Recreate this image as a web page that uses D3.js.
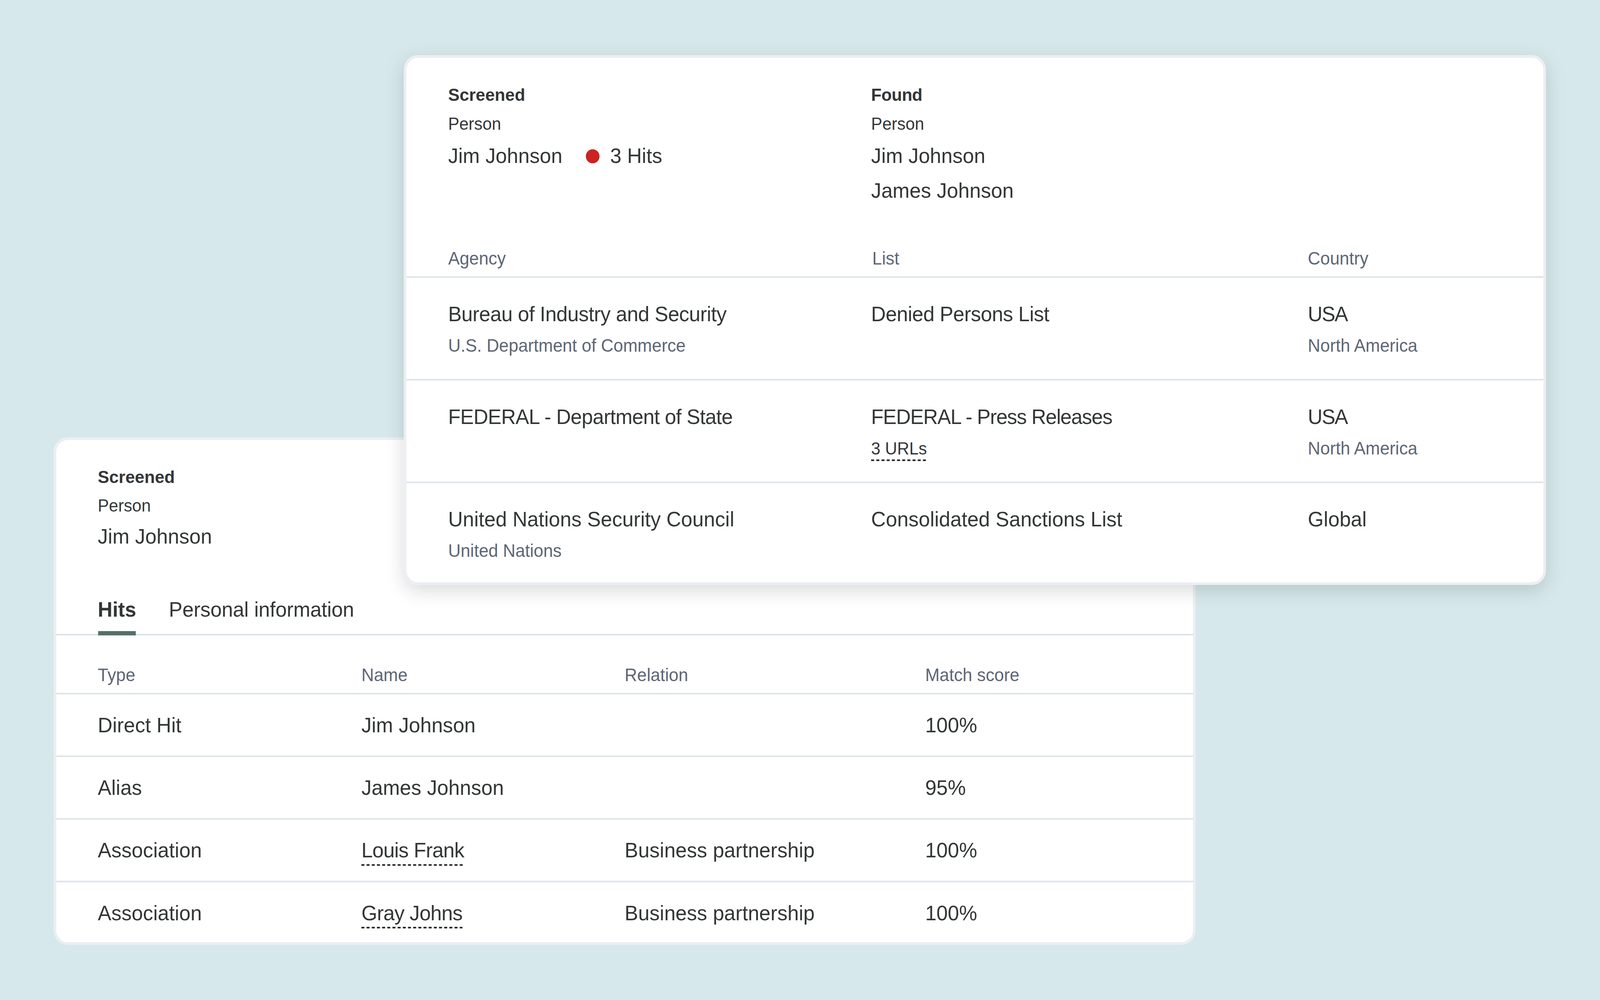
<!DOCTYPE html>
<html>
<head>
<meta charset="utf-8">
<script src="https://cdn.jsdelivr.net/npm/d3@7"></script>
<style>
  html, body { margin: 0; background: #d6e8eb; overflow: hidden; }
  svg { display: block; }
  text { font-family: "Liberation Sans", sans-serif; fill: #333637; }
  .big { font-size: 53.5px; }
  .small { font-size: 44px; }
  .bold { font-size: 45px; font-weight: 700; }
  .head, .sub { font-size: 45.5px; fill: #5d6675; }
  .card { fill: #fff; stroke: #ebeff4; stroke-width: 7; }
  .rule { stroke: #dde4ec; stroke-width: 4; }
  .dots { stroke: #222; stroke-width: 4; stroke-dasharray: 8 5.6; }
</style>
</head>
<body>
<svg id="canvas" viewBox="0 0 4206 2559" preserveAspectRatio="none"></svg>
<script>
const agencyColumns = ['Agency', 'List', 'Country']
const agencyNames = ['Bureau of Industry and Security', 'FEDERAL - Department of State', 'United Nations Security Council']
const agencySubs = ['U.S. Department of Commerce', '', 'United Nations']
const listNames = ['Denied Persons List', 'FEDERAL - Press Releases', 'Consolidated Sanctions List']
const listSubs = ['', '3 URLs', '']
const countryNames = ['USA', 'USA', 'Global']
const countrySubs = ['North America', 'North America', '']

const hitColumns = ['Type', 'Name', 'Relation', 'Match score']
const hitTypes = ['Direct Hit', 'Alias', 'Association', 'Association']
const hitNames = ['Jim Johnson', 'James Johnson', 'Louis Frank', 'Gray Johns']
const hitRelations = ['', '', 'Business partnership', 'Business partnership']
const hitScores = ['100%', '95%', '100%', '100%']
const linkedNames = ['Louis Frank', 'Gray Johns']

const foundNames = ['Jim Johnson', 'James Johnson']
const tabs = ['Hits', 'Personal information']

// Liberation runs wider than the original face on these strings
const tighten = new Map([
    ['FEDERAL - Press Releases', -1.4],
    ['FEDERAL - Department of State', -0.8],
    ['Bureau of Industry and Security', -0.57],
    ['Denied Persons List', -0.56],
    ['Louis Frank', -0.85],
    ['Gray Johns', -0.8],
    ['USA', -2],
    ['Personal information', -0.2],
    ['Found', -0.6]
])

// The window can be narrower than asked for, so fill it and let viewBox map the reference coordinates
const svg = d3.select('#canvas')
    .attr('width', window.innerWidth)
    .attr('height', window.innerHeight)

const defs = svg.append('defs')
defs.append('filter').attr('id', 'lift')
    .attr('x', '-10%').attr('y', '-20%').attr('width', '120%').attr('height', '140%')
    .append('feDropShadow')
    .attr('dx', 0).attr('dy', 14)
    .attr('stdDeviation', 24)
    .attr('flood-color', '#000')
    .attr('flood-opacity', 0.15)

function addText(g, cls, x, y, str) {
    return g.append('text').attr('class', cls).attr('x', x).attr('y', y)
        .style('letter-spacing', tighten.has(str) ? `${tighten.get(str)}px` : null)
        .text(str)
}

function addRule(g, x1, x2, y) {
    g.append('line').attr('class', 'rule').attr('x1', x1).attr('x2', x2).attr('y1', y).attr('y2', y)
}

// Dotted underline sized to the text it sits under
function addDots(g, label, y) {
    const x = +label.attr('x')
    g.append('line').attr('class', 'dots')
        .attr('x1', x).attr('x2', x + label.node().getComputedTextLength())
        .attr('y1', y).attr('y2', y)
}

// Back card
const back = svg.append('g')
back.append('rect').attr('class', 'card')
    .attr('x', 144.5).attr('y', 1122.5).attr('width', 2995).attr('height', 1292).attr('rx', 34)

addText(back, 'bold', 257, 1236, 'Screened')
addText(back, 'small', 257, 1309, 'Person')
addText(back, 'big', 257, 1391, 'Jim Johnson')

const tabX = d3.scaleOrdinal().domain(tabs).range([257, 444])
tabs.forEach((tab, i) => {
    addText(back, 'big', tabX(tab), 1578, tab).attr('font-weight', i === 0 ? 700 : 400)
})
addRule(back, 148, 3137, 1624)
back.append('rect').attr('x', 258).attr('y', 1615).attr('width', 99).attr('height', 11).attr('fill', '#557069')

const hitX = d3.scaleOrdinal().domain(hitColumns).range([257, 950, 1642, 2432])
const hitY = d3.scaleBand().domain(d3.range(hitTypes.length)).range([1775, 2416])

back.selectAll('.head')
    .data(hitColumns)
    .enter()
    .append('text')
    .attr('class', 'head')
    .attr('x', d => hitX(d))
    .attr('y', 1743)
    .text(d => d)

addRule(back, 148, 3137, hitY(0))
hitTypes.forEach((type, i) => {
    if (i > 0) addRule(back, 148, 3137, hitY(i))
    const base = hitY(i) + 99
    const cells = [type, hitNames[i], hitRelations[i], hitScores[i]]
    cells.forEach((cell, c) => {
        const label = addText(back, 'big', hitX(hitColumns[c]), base, cell)
        if (linkedNames.includes(cell)) addDots(back, label, base + 19)
    })
})

// Front card
const front = svg.append('g')
front.append('rect').attr('class', 'card')
    .attr('filter', 'url(#lift)')
    .attr('x', 1065).attr('y', 144.5).attr('width', 2995.5).attr('height', 1349).attr('rx', 34)

addText(front, 'bold', 1178, 258, 'Screened')
addText(front, 'small', 1178, 332, 'Person')
addText(front, 'big', 1178, 417, 'Jim Johnson')
front.append('circle').attr('cx', 1558).attr('cy', 400).attr('r', 18).attr('fill', '#cc2222')
addText(front, 'big', 1604, 417, '3 Hits')

addText(front, 'bold', 2290, 258, 'Found')
addText(front, 'small', 2290, 332, 'Person')
foundNames.forEach((name, i) => addText(front, 'big', 2290, 417 + i * 89.5, name))

const agencyX = d3.scaleOrdinal().domain(agencyColumns).range([1178, 2293, 3438])
const agencyY = d3.scaleBand().domain(d3.range(agencyNames.length)).range([709, 1497])

front.selectAll('.head')
    .data(agencyColumns)
    .enter()
    .append('text')
    .attr('class', 'head')
    .attr('x', d => agencyX(d))
    .attr('y', 677)
    .text(d => d)

agencyNames.forEach((name, i) => {
    addRule(front, 1069, 4057, agencyY(i))
    const base = agencyY(i) + 113
    addText(front, 'big', agencyX('Agency'), base, name)
    addText(front, 'sub', agencyX('Agency'), base + 78, agencySubs[i])
    addText(front, 'big', 2290, base, listNames[i])
    addText(front, 'big', agencyX('Country'), base, countryNames[i])
    addText(front, 'sub', agencyX('Country'), base + 78, countrySubs[i])
    if (listSubs[i]) {
        const label = addText(front, 'small', 2290, base + 78, listSubs[i])
        addDots(front, label, base + 93)
    }
})
</script>
</body>
</html>
